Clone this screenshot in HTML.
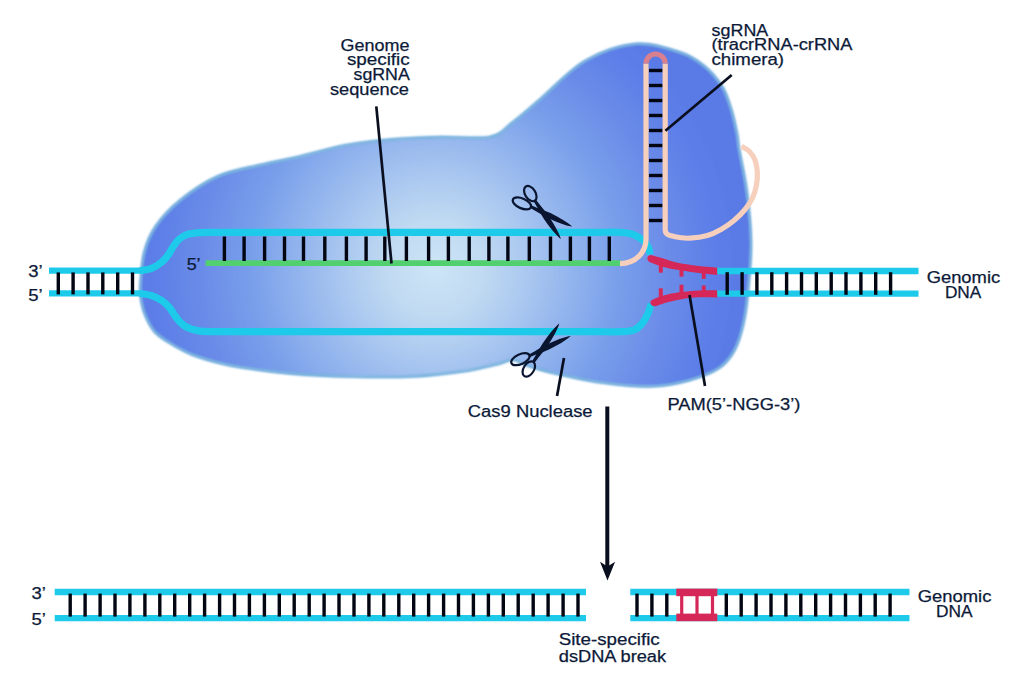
<!DOCTYPE html>
<html><head><meta charset="utf-8"><style>
html,body{margin:0;padding:0;background:#fff;}
svg{display:block;}
.lbl text{font-family:"Liberation Sans",sans-serif;}
</style></head><body>
<svg width="1024" height="690" viewBox="0 0 1024 690">
<rect width="1024" height="690" fill="#ffffff"/>
<defs>
<radialGradient id="bg" gradientUnits="userSpaceOnUse" cx="435" cy="268" r="300">
 <stop offset="0" stop-color="#cde5f6"/>
 <stop offset="0.16" stop-color="#c0daf2"/>
 <stop offset="0.32" stop-color="#a8c6f0"/>
 <stop offset="0.62" stop-color="#789eea"/>
 <stop offset="0.79" stop-color="#6a8ae8"/>
 <stop offset="0.83" stop-color="#6688e8"/>
 <stop offset="0.91" stop-color="#5e80e8"/>
 <stop offset="1" stop-color="#5a7ae6"/>
</radialGradient>
<filter id="soft1" x="-5%" y="-5%" width="110%" height="110%"><feGaussianBlur stdDeviation="0.9"/></filter>
<filter id="soft2" x="-5%" y="-5%" width="110%" height="110%"><feGaussianBlur stdDeviation="1.2"/></filter>
</defs>
<path d="M140.5,285.0 C141.0,276.7 141.8,261.8 144.4,252.0 C147.0,242.2 150.1,234.6 156.0,226.0 C161.9,217.4 169.7,208.8 180.0,200.5 C190.3,192.2 204.3,182.4 217.6,176.5 C230.9,170.6 246.3,168.3 260.0,165.0 C273.7,161.7 285.5,159.8 300.0,156.5 C314.5,153.2 331.3,147.9 346.9,145.0 C362.5,142.1 378.1,140.6 393.8,139.3 C409.4,138.0 424.6,137.4 440.6,137.0 C456.6,136.6 477.8,139.4 489.8,137.0 C501.8,134.6 504.1,128.8 512.5,122.5 C520.9,116.2 527.9,109.8 540.0,99.5 C552.1,89.2 569.2,70.2 585.0,61.0 C600.8,51.8 619.3,45.5 635.0,44.0 C650.7,42.5 667.6,48.4 679.0,52.0 C690.4,55.6 696.3,59.8 703.5,65.5 C710.7,71.2 717.4,79.2 722.0,86.5 C726.6,93.8 728.5,101.1 731.0,109.0 C733.5,116.9 735.7,127.3 737.0,134.0 C738.3,140.7 737.4,139.3 739.0,149.0 C740.6,158.7 744.8,176.2 746.8,192.0 C748.8,207.8 750.9,226.6 751.0,244.0 C751.1,261.4 748.7,283.0 747.4,296.5 C746.1,310.0 745.1,316.1 743.0,325.0 C740.9,333.9 738.5,342.8 734.5,350.0 C730.5,357.2 726.4,363.0 719.0,368.0 C711.6,373.0 701.2,376.9 690.0,380.0 C678.8,383.1 666.7,385.9 652.0,386.3 C637.3,386.7 618.4,384.8 601.6,382.5 C584.8,380.2 563.4,375.2 551.0,372.4 C538.6,369.6 533.3,367.6 527.0,365.5 C520.7,363.4 518.2,360.0 513.0,359.8 C507.8,359.6 504.5,362.6 496.0,364.5 C487.5,366.4 475.9,369.5 462.0,371.5 C448.1,373.5 431.9,375.7 412.6,376.5 C393.3,377.3 366.4,377.0 346.0,376.5 C325.6,376.0 305.0,374.6 290.0,373.4 C275.0,372.2 267.0,371.1 256.0,369.5 C245.0,367.9 234.6,366.5 224.0,364.0 C213.4,361.5 201.5,358.2 192.5,354.7 C183.5,351.2 176.2,346.8 170.0,343.0 C163.8,339.2 158.9,336.2 155.0,332.0 C151.1,327.8 148.8,323.0 146.5,318.0 C144.2,313.0 142.5,307.5 141.5,302.0 C140.5,296.5 140.0,293.3 140.5,285.0 Z" fill="url(#bg)" filter="url(#soft1)"/>
<path d="M140.5,285.0 C141.0,276.7 141.8,261.8 144.4,252.0 C147.0,242.2 150.1,234.6 156.0,226.0 C161.9,217.4 169.7,208.8 180.0,200.5 C190.3,192.2 204.3,182.4 217.6,176.5 C230.9,170.6 246.3,168.3 260.0,165.0 C273.7,161.7 285.5,159.8 300.0,156.5 C314.5,153.2 331.3,147.9 346.9,145.0 C362.5,142.1 378.1,140.6 393.8,139.3 C409.4,138.0 424.6,137.4 440.6,137.0 C456.6,136.6 477.8,139.4 489.8,137.0 C501.8,134.6 504.1,128.8 512.5,122.5 C520.9,116.2 527.9,109.8 540.0,99.5 C552.1,89.2 569.2,70.2 585.0,61.0 C600.8,51.8 619.3,45.5 635.0,44.0 C650.7,42.5 667.6,48.4 679.0,52.0 C690.4,55.6 696.3,59.8 703.5,65.5 C710.7,71.2 717.4,79.2 722.0,86.5 C726.6,93.8 728.5,101.1 731.0,109.0 C733.5,116.9 735.7,127.3 737.0,134.0 C738.3,140.7 737.4,139.3 739.0,149.0 C740.6,158.7 744.8,176.2 746.8,192.0 C748.8,207.8 750.9,226.6 751.0,244.0 C751.1,261.4 748.7,283.0 747.4,296.5 C746.1,310.0 745.1,316.1 743.0,325.0 C740.9,333.9 738.5,342.8 734.5,350.0 C730.5,357.2 726.4,363.0 719.0,368.0 C711.6,373.0 701.2,376.9 690.0,380.0 C678.8,383.1 666.7,385.9 652.0,386.3 C637.3,386.7 618.4,384.8 601.6,382.5 C584.8,380.2 563.4,375.2 551.0,372.4 C538.6,369.6 533.3,367.6 527.0,365.5 C520.7,363.4 518.2,360.0 513.0,359.8 C507.8,359.6 504.5,362.6 496.0,364.5 C487.5,366.4 475.9,369.5 462.0,371.5 C448.1,373.5 431.9,375.7 412.6,376.5 C393.3,377.3 366.4,377.0 346.0,376.5 C325.6,376.0 305.0,374.6 290.0,373.4 C275.0,372.2 267.0,371.1 256.0,369.5 C245.0,367.9 234.6,366.5 224.0,364.0 C213.4,361.5 201.5,358.2 192.5,354.7 C183.5,351.2 176.2,346.8 170.0,343.0 C163.8,339.2 158.9,336.2 155.0,332.0 C151.1,327.8 148.8,323.0 146.5,318.0 C144.2,313.0 142.5,307.5 141.5,302.0 C140.5,296.5 140.0,293.3 140.5,285.0 Z" fill="none" stroke="#6cacda" stroke-width="2.6" filter="url(#soft2)"/>
<g fill="none" stroke="#1ecaea" stroke-width="6.4" stroke-linecap="butt"><path d="M49,270.6 H141 M49,293.4 H141"/><path d="M716,271 H918.5 M716,293.6 H918.5"/><path d="M54.7,592 H586 M54.7,618.1 H586 M630.3,592 H909.5 M630.3,618.1 H909.5"/></g>
<g fill="none" stroke="#1ecaea" stroke-width="7.2" stroke-linecap="butt"><path d="M140,270.6 C141.83,270.27 147.45,269.95 151.00,268.60 C154.55,267.25 158.38,264.85 161.30,262.50 C164.22,260.15 166.50,257.17 168.50,254.50 C170.50,251.83 171.57,249.02 173.30,246.50 C175.03,243.98 176.65,241.38 178.90,239.40 C181.15,237.42 183.48,235.73 186.80,234.60 C190.12,233.47 194.60,232.98 198.80,232.60 C203.00,232.22 209.80,232.35 212.00,232.30  L600,232.3 C603.33,232.32 614.42,232.02 620.00,232.40 C625.58,232.78 629.58,233.20 633.50,234.60 C637.42,236.00 641.05,238.70 643.50,240.80 C645.95,242.90 647.08,244.92 648.20,247.20 C649.32,249.48 649.87,253.28 650.20,254.50 "/><path d="M140,293.4 C141.83,293.73 147.45,294.27 151.00,295.40 C154.55,296.53 158.25,298.22 161.30,300.20 C164.35,302.18 167.17,304.92 169.30,307.30 C171.43,309.68 172.37,312.10 174.10,314.50 C175.83,316.90 177.58,319.57 179.70,321.70 C181.82,323.83 183.62,325.77 186.80,327.30 C189.98,328.83 194.60,330.18 198.80,330.90 C203.00,331.62 209.80,331.48 212.00,331.60  L600,331.7 C603.67,331.70 616.33,331.98 622.00,331.70 C627.67,331.42 630.67,331.35 634.00,330.00 C637.33,328.65 639.75,326.18 642.00,323.60 C644.25,321.02 645.97,317.77 647.50,314.50 C649.03,311.23 650.58,305.75 651.20,304.00 "/></g>
<path d="M205.6,263.2 H621" stroke="#52cf6e" stroke-width="5.8" fill="none"/>
<g stroke="#020612" stroke-width="3.4">
<line x1="58.3" y1="272.4" x2="58.3" y2="294.4"/><line x1="73.1" y1="272.4" x2="73.1" y2="294.4"/><line x1="88.0" y1="272.4" x2="88.0" y2="294.4"/><line x1="102.8" y1="272.4" x2="102.8" y2="294.4"/><line x1="117.7" y1="272.4" x2="117.7" y2="294.4"/><line x1="132.5" y1="272.4" x2="132.5" y2="294.4"/>
<line x1="224.4" y1="236.5" x2="224.4" y2="261"/><line x1="244.1" y1="236.5" x2="244.1" y2="261"/><line x1="264.6" y1="236.5" x2="264.6" y2="261"/><line x1="284.5" y1="236.5" x2="284.5" y2="261"/><line x1="303.5" y1="236.5" x2="303.5" y2="261"/><line x1="324.8" y1="236.5" x2="324.8" y2="261"/><line x1="346.4" y1="236.5" x2="346.4" y2="261"/><line x1="366.1" y1="236.5" x2="366.1" y2="261"/><line x1="384.8" y1="236.5" x2="384.8" y2="261"/><line x1="406.4" y1="236.5" x2="406.4" y2="261"/><line x1="428.6" y1="236.5" x2="428.6" y2="261"/><line x1="448.4" y1="236.5" x2="448.4" y2="261"/><line x1="469.2" y1="236.5" x2="469.2" y2="261"/><line x1="488.9" y1="236.5" x2="488.9" y2="261"/><line x1="507.9" y1="236.5" x2="507.9" y2="261"/><line x1="529.3" y1="236.5" x2="529.3" y2="261"/><line x1="550.5" y1="236.5" x2="550.5" y2="261"/><line x1="570.4" y1="236.5" x2="570.4" y2="261"/><line x1="589.4" y1="236.5" x2="589.4" y2="261"/><line x1="609.3" y1="236.5" x2="609.3" y2="261"/>
<line x1="727.2" y1="272.2" x2="727.2" y2="294.8"/><line x1="742.1" y1="272.2" x2="742.1" y2="294.8"/><line x1="756.9" y1="272.2" x2="756.9" y2="294.8"/><line x1="771.8" y1="272.2" x2="771.8" y2="294.8"/><line x1="786.6" y1="272.2" x2="786.6" y2="294.8"/><line x1="801.5" y1="272.2" x2="801.5" y2="294.8"/><line x1="816.3" y1="272.2" x2="816.3" y2="294.8"/><line x1="831.2" y1="272.2" x2="831.2" y2="294.8"/><line x1="846.0" y1="272.2" x2="846.0" y2="294.8"/><line x1="860.9" y1="272.2" x2="860.9" y2="294.8"/><line x1="875.7" y1="272.2" x2="875.7" y2="294.8"/><line x1="890.6" y1="272.2" x2="890.6" y2="294.8"/>
<line x1="649" y1="70.5" x2="662.6" y2="70.5"/><line x1="649" y1="85.5" x2="662.6" y2="85.5"/><line x1="649" y1="100.5" x2="662.6" y2="100.5"/><line x1="649" y1="115.5" x2="662.6" y2="115.5"/><line x1="649" y1="130.5" x2="662.6" y2="130.5"/><line x1="649" y1="145.5" x2="662.6" y2="145.5"/><line x1="649" y1="160.5" x2="662.6" y2="160.5"/><line x1="649" y1="175.5" x2="662.6" y2="175.5"/><line x1="649" y1="190.5" x2="662.6" y2="190.5"/><line x1="649" y1="205.5" x2="662.6" y2="205.5"/><line x1="649" y1="220.5" x2="662.6" y2="220.5"/>
<line x1="70.2" y1="593.6" x2="70.2" y2="616.6"/><line x1="85.1" y1="593.6" x2="85.1" y2="616.6"/><line x1="100.1" y1="593.6" x2="100.1" y2="616.6"/><line x1="115.0" y1="593.6" x2="115.0" y2="616.6"/><line x1="129.9" y1="593.6" x2="129.9" y2="616.6"/><line x1="144.9" y1="593.6" x2="144.9" y2="616.6"/><line x1="159.8" y1="593.6" x2="159.8" y2="616.6"/><line x1="174.7" y1="593.6" x2="174.7" y2="616.6"/><line x1="189.7" y1="593.6" x2="189.7" y2="616.6"/><line x1="204.6" y1="593.6" x2="204.6" y2="616.6"/><line x1="219.6" y1="593.6" x2="219.6" y2="616.6"/><line x1="234.5" y1="593.6" x2="234.5" y2="616.6"/><line x1="249.4" y1="593.6" x2="249.4" y2="616.6"/><line x1="264.4" y1="593.6" x2="264.4" y2="616.6"/><line x1="279.3" y1="593.6" x2="279.3" y2="616.6"/><line x1="294.2" y1="593.6" x2="294.2" y2="616.6"/><line x1="309.2" y1="593.6" x2="309.2" y2="616.6"/><line x1="324.1" y1="593.6" x2="324.1" y2="616.6"/><line x1="339.0" y1="593.6" x2="339.0" y2="616.6"/><line x1="354.0" y1="593.6" x2="354.0" y2="616.6"/><line x1="368.9" y1="593.6" x2="368.9" y2="616.6"/><line x1="383.8" y1="593.6" x2="383.8" y2="616.6"/><line x1="398.8" y1="593.6" x2="398.8" y2="616.6"/><line x1="413.7" y1="593.6" x2="413.7" y2="616.6"/><line x1="428.6" y1="593.6" x2="428.6" y2="616.6"/><line x1="443.6" y1="593.6" x2="443.6" y2="616.6"/><line x1="458.5" y1="593.6" x2="458.5" y2="616.6"/><line x1="473.4" y1="593.6" x2="473.4" y2="616.6"/><line x1="488.4" y1="593.6" x2="488.4" y2="616.6"/><line x1="503.3" y1="593.6" x2="503.3" y2="616.6"/><line x1="518.2" y1="593.6" x2="518.2" y2="616.6"/><line x1="533.2" y1="593.6" x2="533.2" y2="616.6"/><line x1="548.1" y1="593.6" x2="548.1" y2="616.6"/><line x1="563.1" y1="593.6" x2="563.1" y2="616.6"/><line x1="578.0" y1="593.6" x2="578.0" y2="616.6"/>
<line x1="637.0" y1="593.6" x2="637.0" y2="616.6"/><line x1="651.9" y1="593.6" x2="651.9" y2="616.6"/><line x1="666.8" y1="593.6" x2="666.8" y2="616.6"/><line x1="726.3" y1="593.6" x2="726.3" y2="616.6"/><line x1="741.2" y1="593.6" x2="741.2" y2="616.6"/><line x1="756.1" y1="593.6" x2="756.1" y2="616.6"/><line x1="771.0" y1="593.6" x2="771.0" y2="616.6"/><line x1="785.9" y1="593.6" x2="785.9" y2="616.6"/><line x1="800.8" y1="593.6" x2="800.8" y2="616.6"/><line x1="815.7" y1="593.6" x2="815.7" y2="616.6"/><line x1="830.6" y1="593.6" x2="830.6" y2="616.6"/><line x1="845.5" y1="593.6" x2="845.5" y2="616.6"/><line x1="860.4" y1="593.6" x2="860.4" y2="616.6"/><line x1="875.2" y1="593.6" x2="875.2" y2="616.6"/><line x1="890.1" y1="593.6" x2="890.1" y2="616.6"/>
</g>
<g fill="none" stroke="#f6d0bc" stroke-width="5.2"><path d="M620,263.6 C636,263.6 646,252 646,239 V63.4"/><path d="M665.2,63.4 V229.5 Q665.2,234.2 670,235.4 C671.33,235.72 674.67,236.83 678.00,237.30 C681.33,237.77 685.10,238.50 690.00,238.20 C694.90,237.90 702.23,236.95 707.40,235.50 C712.57,234.05 716.57,232.00 721.00,229.50 C725.43,227.00 730.00,223.83 734.00,220.50 C738.00,217.17 741.92,213.25 745.00,209.50 C748.08,205.75 750.58,202.08 752.50,198.00 C754.42,193.92 755.70,189.33 756.50,185.00 C757.30,180.67 757.55,176.17 757.30,172.00 C757.05,167.83 756.30,163.42 755.00,160.00 C753.70,156.58 751.75,153.78 749.50,151.50 C747.25,149.22 742.83,147.17 741.50,146.30 "/></g>
<path d="M646,63.6 A9.6,9.6 0 0 1 665.2,63.6" fill="none" stroke="#d8808f" stroke-width="5.2"/>
<path d="M650.25,255.1 C652.46,255.68 659.33,257.40 663.50,258.60 C667.67,259.80 670.68,261.23 675.25,262.30 C679.82,263.37 685.69,264.25 690.90,265.00 C696.11,265.75 702.12,266.33 706.50,266.80 C710.88,267.27 715.42,267.63 717.20,267.80 L717.2,275.0 C715.42,274.80 710.88,274.32 706.50,273.80 C702.12,273.28 696.11,272.62 690.90,271.90 C685.69,271.18 679.82,270.32 675.25,269.50 C670.68,268.68 667.79,268.27 663.50,267.00 C659.21,265.73 651.83,262.75 649.50,261.90 C646.5,260.5 646.5,256 650.25,255.1 Z" fill="#d62858"/>
<path d="M650.6,302.0 C651.07,301.53 650.60,300.45 653.40,299.20 C656.20,297.95 662.47,295.73 667.40,294.50 C672.33,293.27 677.78,292.48 683.00,291.80 C688.22,291.12 693.00,290.67 698.70,290.40 C704.40,290.13 714.12,290.23 717.20,290.20 L717.2,297.4 C714.12,297.38 704.40,297.05 698.70,297.30 C693.00,297.55 688.22,298.07 683.00,298.90 C677.78,299.73 671.95,301.07 667.40,302.30 C662.85,303.53 657.65,305.63 655.70,306.30 C652.5,306.5 650,304.5 650.6,302.0 Z" fill="#d62858"/>
<g fill="#d62858"><rect x="658.8" y="264" width="4" height="8.7"/><rect x="679.5" y="268" width="4" height="8.6"/><rect x="701.8" y="270" width="3.9" height="8.9"/><rect x="658.8" y="288.3" width="4" height="10"/><rect x="679.5" y="284.7" width="4" height="9"/><rect x="701.8" y="285.5" width="3.9" height="7"/></g>
<g fill="#d62858"><rect x="676.3" y="588.6" width="41" height="7.6"/><rect x="676.3" y="613.6" width="41" height="7.6"/><rect x="680.1" y="595" width="3.2" height="20"/><rect x="695.4" y="595" width="3.2" height="20"/><rect x="710.9" y="595" width="3.2" height="20"/></g>
<g stroke="#0a0f1f" stroke-width="2.7" fill="none"><line x1="376.3" y1="106.3" x2="391.5" y2="263.5"/><line x1="731.7" y1="75" x2="665.4" y2="130.8"/><line x1="564" y1="358" x2="557" y2="396"/><line x1="689.5" y1="295" x2="705" y2="386"/></g>

<g id="sc">
 <ellipse cx="530.3" cy="193.6" rx="8.4" ry="5.2" transform="rotate(58 530.3 193.6)" fill="none" stroke="#0a1530" stroke-width="2.2"/>
 <ellipse cx="521.9" cy="203.4" rx="9.8" ry="4.9" transform="rotate(24 521.9 203.4)" fill="none" stroke="#0a1530" stroke-width="2.2"/>
 <path d="M529.89,207.86 L535.98,211.22 L541.97,214.76 L548.08,218.08 L554.40,220.94 L560.87,223.49 L566.61,225.42 L570.27,226.34 L572.20,226.60 L570.79,225.26 L567.78,222.98 L562.68,219.71 L556.64,216.26 L550.45,213.12 L544.05,210.44 L537.53,207.98 L531.11,205.34 Z" fill="#0a1530"/>
 <path d="M533.44,200.98 L537.04,207.03 L540.47,213.18 L544.11,219.20 L548.17,224.94 L552.51,230.48 L556.54,235.10 L559.25,237.78 L560.80,239.00 L560.25,237.11 L558.77,233.59 L555.99,228.12 L552.47,222.02 L548.67,216.12 L544.45,210.50 L540.02,205.01 L535.76,199.42 Z" fill="#0a1530"/>
</g>
<use href="#sc" transform="translate(-1.5 562.6) scale(1 -1)"/>
<line x1="607.3" y1="406.5" x2="607.3" y2="567" stroke="#0a0f1f" stroke-width="4"/>
<path d="M600,561.8 L607.5,580.4 L615.1,561.8 L607.5,566.6 Z" fill="#0a0f1f"/>
<g class="lbl" font-size="16" fill="#0c1a38" stroke="#0c1a38" stroke-width="0.25"><text x="340.58" y="50.5" textLength="68.84" lengthAdjust="spacingAndGlyphs">Genome</text><text x="346.92" y="65.0" textLength="62.8" lengthAdjust="spacingAndGlyphs">specific</text><text x="353.49" y="79.8" textLength="56.36" lengthAdjust="spacingAndGlyphs">sgRNA</text><text x="329.96" y="94.5" textLength="78.98" lengthAdjust="spacingAndGlyphs">sequence</text><text x="711.58" y="35.7" textLength="56.67" lengthAdjust="spacingAndGlyphs">sgRNA</text><text x="711.56" y="50.3" textLength="140.92" lengthAdjust="spacingAndGlyphs">(tracrRNA-crRNA</text><text x="711.54" y="65.1" textLength="72.5" lengthAdjust="spacingAndGlyphs">chimera)</text><text x="467.85" y="416.6" textLength="124.72" lengthAdjust="spacingAndGlyphs">Cas9 Nuclease</text><text x="667.46" y="410.3" textLength="132.87" lengthAdjust="spacingAndGlyphs">PAM(5’-NGG-3’)</text><text x="558.73" y="645.0" textLength="100.96" lengthAdjust="spacingAndGlyphs">Site-specific</text><text x="558.76" y="661.6" textLength="107.34" lengthAdjust="spacingAndGlyphs">dsDNA break</text><text x="926.65" y="283.2" textLength="73.53" lengthAdjust="spacingAndGlyphs">Genomic</text><text x="944.92" y="297.6" textLength="36.44" lengthAdjust="spacingAndGlyphs">DNA</text><text x="917.75" y="601.9" textLength="73.64" lengthAdjust="spacingAndGlyphs">Genomic</text><text x="936.02" y="616.5" textLength="36.55" lengthAdjust="spacingAndGlyphs">DNA</text><text x="28.25" y="276.8" textLength="14.38" lengthAdjust="spacingAndGlyphs">3’</text><text x="28.25" y="301.1" textLength="14.38" lengthAdjust="spacingAndGlyphs">5’</text><text x="186.68" y="269.5" textLength="13.92" lengthAdjust="spacingAndGlyphs">5’</text><text x="31.55" y="599.4" textLength="14.38" lengthAdjust="spacingAndGlyphs">3’</text><text x="31.55" y="624.8" textLength="14.38" lengthAdjust="spacingAndGlyphs">5’</text></g>
</svg>
</body></html>
